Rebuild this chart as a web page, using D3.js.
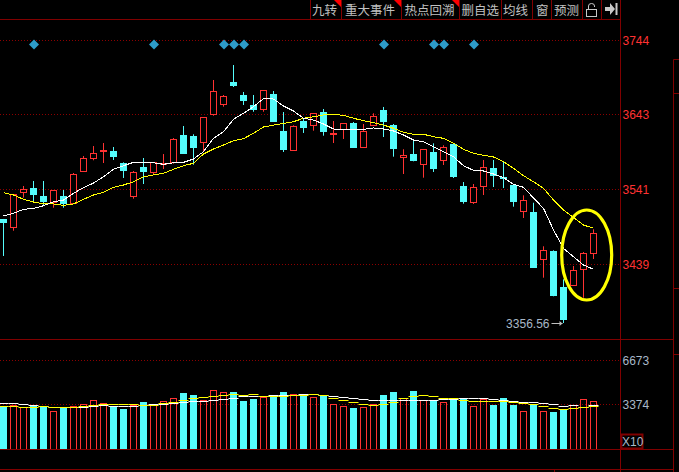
<!DOCTYPE html>
<html>
<head>
<meta charset="utf-8">
<script src="https://cdn.jsdelivr.net/npm/d3@7"></script>
<style>
  body { margin: 0; background: #000; overflow: hidden; }
</style>
</head>
<body>
<div id="chart"></div>
<script>
// daily candles
const opens = [3501,3489.1,3536.8,3544.5,3532.3,3522.3,3533.6,3522.3,3565.4,3583,3592.6,3594.9,3578.1,3531.3,3573.1,3564,3575.1,3578.1,3616.3,3614,3604.8,3642.9,3656.6,3688.8,3671.1,3657.5,3650.7,3672.5,3622.1,3593.9,3634.4,3628,3648,3615.7,3623.1,3633,3599,3628.9,3650.7,3630.3,3585,3590.8,3574.9,3592.2,3580.3,3603.5,3545.9,3524.1,3544.9,3570.4,3558.5,3548.2,3510.9,3511.8,3446.1,3458.3,3408.7,3409.1,3432.2,3453.7];
const closes = [3495.5,3534.6,3541.4,3535,3524.1,3539.1,3522.7,3561.8,3583.6,3590.4,3594.5,3586.7,3566.7,3564.5,3566.7,3578.1,3576.5,3609.5,3590.8,3597.6,3639.4,3674.8,3668,3683,3663,3650.7,3676.2,3634.8,3596.6,3627.2,3624.9,3644.3,3621.2,3617.6,3631.2,3599.4,3620.4,3640.8,3634.8,3598,3587.7,3580.9,3595.9,3569,3598.6,3558.5,3524.1,3544.1,3571.3,3559.9,3556.4,3525.5,3526.4,3435.9,3458.3,3396,3362.2,3430.8,3454.2,3480.9];
const highs = [3501,3535,3545.9,3552.7,3552.7,3540.4,3540.4,3563.6,3586.7,3600.3,3604.4,3599,3578.1,3566.3,3584,3578.1,3589.4,3611.2,3627.6,3616.3,3639.4,3690.2,3669.8,3710.6,3673.9,3669.8,3676.2,3675.2,3646.6,3628.5,3637.5,3644.3,3650.7,3634.4,3631.2,3633,3630.3,3644.9,3653.5,3630.3,3595.9,3608.9,3595.9,3604,3601.3,3603.5,3551.3,3548.6,3581.3,3581.3,3579,3548.2,3533.2,3523.1,3463.8,3458.3,3418.1,3436.9,3456,3486.9];
const lows = [3450.6,3485,3530,3523.1,3520,3516.3,3516.3,3521.4,3565.4,3580.9,3577.2,3581.3,3556.8,3528.6,3548.6,3560.9,3569,3576.2,3589.9,3574.9,3592.6,3641.6,3653.9,3680.7,3656.2,3647,3647,3634.8,3592.2,3593.9,3618.1,3621.2,3614.4,3604.4,3609.9,3599.4,3598,3627.6,3612.6,3585.8,3562.2,3579.5,3557.2,3565,3574.5,3556.8,3521.8,3521.4,3533.6,3544.5,3543.1,3517.7,3502.3,3435.9,3420.4,3394.2,3356.56,3409.1,3392.2,3446.5];

// price moving averages
const maWhite = [3505,3508.7,3514.1,3515.5,3519,3524.5,3526.8,3535.9,3543.6,3549.9,3558.5,3568.6,3573.5,3578.1,3578.1,3577.6,3575.4,3577.6,3578.1,3582.6,3592.6,3610.8,3619.8,3636.7,3644.9,3653.9,3664.8,3664.3,3654.8,3648,3638.1,3635.7,3630.3,3623.5,3623.1,3623.1,3623.1,3624.9,3623.5,3620.8,3615.3,3608.5,3606.2,3599.4,3592.6,3585.8,3573.5,3567.2,3566.3,3562.2,3557.2,3548.2,3544.1,3529.5,3515.5,3486,3461,3449.6,3438.3,3432.2];
const maYellow = [3536.8,3533.6,3527.8,3524.1,3521.4,3521.4,3519.6,3521.4,3527.8,3533.6,3537.3,3544.1,3547.2,3551.7,3558.5,3560.9,3563.2,3568.6,3573.5,3576.8,3589.5,3596.3,3601.7,3607.6,3610.3,3617.6,3626.2,3628.9,3631.2,3633.4,3638.1,3640.2,3642.6,3643.5,3642.1,3638.1,3634.8,3632.1,3628.9,3624.4,3619,3616.3,3616.3,3613,3610.8,3604,3595.9,3590.4,3587.7,3585.4,3579,3570,3559.9,3551.7,3542.7,3526.8,3513.2,3503.2,3492.8,3488.3];

// volume and its averages
const volumes = [3188,3313,3138,3313,3238,2836,3238,3238,3363,3665,3439,3238,3087,3263,3614,3313,3589,3815,4292,4142,3665,4418,4267,4367,3690,3840,3916,4142,4367,4116,4116,3891,4066,3363,3213,3163,3138,3363,4142,4367,3815,4443,3690,3665,3514,3790,3815,3213,3765,3389,3916,3389,2836,3389,2836,2861,3012,3313,3740,3589];
const volWhite = [3439,3439,3363,3288,3213,3112,3112,3112,3112,3213,3288,3213,3213,3213,3288,3338,3363,3414,3514,3589,3589,3665,3740,3815,3941,3966,3991,4016,4041,4041,4116,4116,4041,3966,3865,3815,3740,3665,3640,3640,3640,3640,3640,3640,3740,3765,3790,3790,3790,3740,3665,3589,3539,3539,3439,3363,3213,3263,3138,3288];
const volYellow = [3213,3213,3138,3138,3213,3112,3112,3112,3188,3263,3363,3363,3363,3363,3288,3313,3414,3514,3665,3790,3891,3966,4041,4116,4041,4116,3991,3991,3991,4041,4066,4091,4041,3840,3690,3514,3363,3263,3338,3514,3790,3941,4041,3941,3790,3790,3665,3589,3589,3589,3589,3489,3439,3363,3213,3087,3012,3062,3138,3188];

const priceTicks = [3744, 3643, 3541, 3439];
const volumeTicks = [6673, 3374];
const signalDays = [3, 15, 22, 23, 24, 38, 43, 44, 47];
const signalPrice = 3738.5;
const lowIndex = 56;
const lowLabel = "3356.56";
const buttons = ["九转", "重大事件", "热点回溯", "删自选", "均线", "窗", "预测"];

const RED = "#ff3232", CYAN = "#54fcfc", FRAME = "#800000", GRID = "#8c0000";
const W = 679, H = 472, AXIS_X = 620.5;

const svg = d3.select("#chart")
  .append("svg")
    .attr("width", W)
    .attr("height", H)
    .style("display", "block")
    .style("background", "#000");

// scales
const x = d3.scaleLinear().domain([0, 59]).range([3.5, 593.5]);
const y = d3.scaleLinear().domain([3356.56, 3439, 3744]).range([323, 264.5, 40.5]);
const yVol = d3.scaleLinear().domain([0, 6673]).range([449, 360.5]);
const crisp = v => Math.round(v - 0.5) + 0.5;

// dotted grid
const gridLines = priceTicks.map(d => y(d)).concat(volumeTicks.map(d => yVol(d)));
svg.append("g").selectAll("line")
  .data(gridLines)
  .join("line")
    .attr("x1", 0).attr("x2", AXIS_X)
    .attr("y1", d => crisp(d)).attr("y2", d => crisp(d))
    .attr("stroke", GRID)
    .attr("stroke-dasharray", "1,2");

// volume bars
const isUp = i => closes[i] >= opens[i];
svg.append("g").selectAll("rect")
  .data(volumes)
  .join("rect")
    .attr("shape-rendering", "crispEdges")
    .attr("x", (d, i) => x(i) - (isUp(i) ? 3 : 3.5))
    .attr("width", (d, i) => isUp(i) ? 6 : 7)
    .attr("y", d => crisp(yVol(d)))
    .attr("height", d => 449 - crisp(yVol(d)))
    .attr("fill", (d, i) => isUp(i) ? "none" : CYAN)
    .attr("stroke", (d, i) => isUp(i) ? RED : "none");

// volume averages are short flat dashes, one per day
function volDashes(values, color) {
  svg.append("g").selectAll("line")
    .data(values)
    .join("line")
      .attr("x1", (d, i) => x(i) - 5).attr("x2", (d, i) => x(i) + 5)
      .attr("y1", d => crisp(yVol(d))).attr("y2", d => crisp(yVol(d)))
      .attr("stroke", color)
      .attr("stroke-width", 1);
}
volDashes(volWhite, "#fff");
volDashes(volYellow, "#ffff00");

// wicks
const days = d3.range(opens.length);
svg.append("g").selectAll("line")
  .data(days)
  .join("line")
    .attr("x1", i => x(i)).attr("x2", i => x(i))
    .attr("y1", i => y(highs[i])).attr("y2", i => y(lows[i]))
    .attr("stroke", i => isUp(i) ? RED : CYAN);

// bodies
svg.append("g").selectAll("rect")
  .data(days)
  .join("rect")
    .attr("shape-rendering", "crispEdges")
    .attr("x", i => x(i) - (isUp(i) ? 3 : 3.5))
    .attr("width", i => isUp(i) ? 6 : 7)
    .attr("y", i => crisp(y(Math.max(opens[i], closes[i]))))
    .attr("height", i => Math.max(1, Math.round(Math.abs(y(opens[i]) - y(closes[i])))))
    .attr("fill", i => isUp(i) ? "#000" : CYAN)
    .attr("stroke", i => isUp(i) ? RED : "none");

// price averages
const maLine = d3.line().x((d, i) => x(i)).y(d => y(d));
[[maYellow, "#ffff00"], [maWhite, "#fff"]].forEach(([values, color]) => {
  svg.append("path")
    .attr("d", maLine(values))
    .attr("fill", "none")
    .attr("stroke", color)
    .attr("shape-rendering", "crispEdges");
});

// blue signal diamonds
svg.append("g").selectAll("path")
  .data(signalDays)
  .join("path")
    .attr("d", d3.symbol(d3.symbolSquare, 50))
    .attr("transform", d => `translate(${x(d) + 0.5},${y(signalPrice)}) rotate(45)`)
    .attr("fill", "#2e9bc9");

// lowest price marker
svg.append("line")
  .attr("x1", x(lowIndex) - 12).attr("x2", x(lowIndex) - 1)
  .attr("y1", crisp(y(lows[lowIndex]))).attr("y2", crisp(y(lows[lowIndex])))
  .attr("stroke", "#c0c0c0");
svg.append("path")
  .attr("d", d3.line()([[x(lowIndex) - 4, y(lows[lowIndex]) - 2], [x(lowIndex) - 1, y(lows[lowIndex]) + 0.5], [x(lowIndex) - 4, y(lows[lowIndex]) + 3]]))
  .attr("fill", "#c0c0c0");
svg.append("text")
  .attr("x", x(lowIndex) - 14)
  .attr("y", y(lows[lowIndex]) + 4.5)
  .attr("text-anchor", "end")
  .style("font", "12px 'Liberation Sans'")
  .attr("fill", "#a8b8c8")
  .text(lowLabel);

// hand drawn yellow ring
svg.append("ellipse")
  .attr("cx", 586.7).attr("cy", 255)
  .attr("rx", 25).attr("ry", 45)
  .attr("fill", "none")
  .attr("stroke", "#ffff00")
  .attr("stroke-width", 3.2);

// frame
const frame = [
  [0, 19.5, AXIS_X, 19.5], [AXIS_X, 0, AXIS_X, H],
  [0, 339.5, 673.5, 339.5], [0, 449.5, 673.5, 449.5], [0, 469.5, 673.5, 469.5],
  [673.5, 59.5, 673.5, H], [673.5, 59.5, W, 59.5], [673.5, 93.5, W, 93.5],
  [673.5, 288.5, W, 288.5], [673.5, 354.5, W, 354.5],
  [554.5, 469.5, 554.5, H]
];
svg.append("g").selectAll("line")
  .data(frame)
  .join("line")
    .attr("x1", d => d[0]).attr("y1", d => d[1])
    .attr("x2", d => d[2]).attr("y2", d => d[3])
    .attr("stroke", FRAME);

// axes
function sideAxis(scale, ticks, color) {
  const g = svg.append("g")
    .attr("transform", `translate(${AXIS_X},0)`)
    .call(d3.axisRight(scale).tickValues(ticks).tickSize(0).tickPadding(2).tickFormat(d3.format("d")));
  g.select(".domain").remove();
  g.selectAll("text")
    .attr("fill", color)
    .style("font", "12px 'Liberation Sans'");
}
sideAxis(y, priceTicks, RED);
sideAxis(yVol, volumeTicks, "#a8b8c8");

// X10 box
svg.append("rect")
  .attr("x", 621.5).attr("y", 434.5)
  .attr("width", 21).attr("height", 14)
  .attr("fill", "none")
  .attr("stroke", FRAME)
  .attr("stroke-width", 2);
svg.append("text")
  .attr("x", 622).attr("y", 446)
  .style("font", "12px 'Liberation Sans'")
  .attr("fill", "#a8b8c8")
  .text("X10");

// toolbar
const separators = [310.5, 341.5, 401.5, 459.5, 501.5, 532.5, 551.5, 582.5, 601.5];
const buttonStarts = [312, 345, 404.5, 461.5, 503, 536, 554];
svg.append("g").selectAll("line")
  .data(separators)
  .join("line")
    .attr("x1", d => d).attr("x2", d => d)
    .attr("y1", 0).attr("y2", 19)
    .attr("stroke", FRAME);
svg.append("g").selectAll("text")
  .data(buttons)
  .join("text")
    .attr("x", (d, i) => buttonStarts[i])
    .attr("y", 15)
    .style("font", "12.5px 'Noto Sans CJK SC'")
    .attr("fill", "#c0c0c0")
    .text(d => d);
// red corner flags
svg.append("g").selectAll("path")
  .data([341, 401, 459])
  .join("path")
    .attr("d", d => `M${d - 7},0L${d},0L${d},7Z`)
    .attr("fill", "#ff0000");
// lock and arrow icons
svg.append("rect")
  .attr("x", 586.5).attr("y", 9.5)
  .attr("width", 10).attr("height", 7)
  .attr("fill", "none").attr("stroke", "#c8c8c8");
svg.append("path")
  .attr("d", "M588.5,9V6Q588.5,3.5 591.5,3.5Q594.5,3.5 594.5,6V7")
  .attr("fill", "none").attr("stroke", "#c8c8c8");
svg.append("path")
  .attr("d", "M605,7H610V3L615,9L610,15V11H605Z M615.5,3H617.5V15H615.5Z")
  .attr("fill", "#c8c8c8");
</script>
</body>
</html>
